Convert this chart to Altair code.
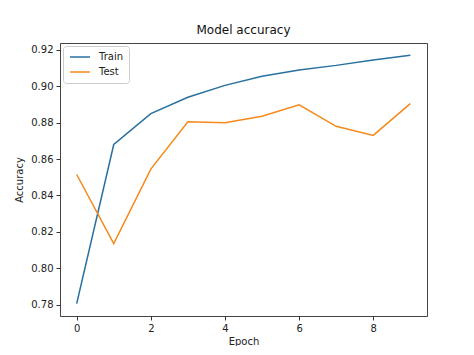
import altair as alt
import pandas as pd

epochs = list(range(10))
train_acc = [0.7805, 0.868, 0.885, 0.894, 0.9005, 0.9055, 0.909, 0.9115, 0.9145, 0.917]
test_acc = [0.8515, 0.8135, 0.8545, 0.8805, 0.880, 0.8835, 0.8898, 0.878, 0.873, 0.8905]
series = ["Train", "Test"]
colors = ["#27709f", "#f5891a"]

rows = []
for e, a in zip(epochs, train_acc):
    rows.append({"Epoch": e, "Accuracy": a, "Series": "Train"})
for e, a in zip(epochs, test_acc):
    rows.append({"Epoch": e, "Accuracy": a, "Series": "Test"})
df = pd.DataFrame(rows)

font = "DejaVu Sans"

chart = alt.Chart(df).mark_line(strokeWidth=1.5).encode(
    x=alt.X("Epoch:Q",
            scale=alt.Scale(domain=[-0.45, 9.45], nice=False, zero=False),
            axis=alt.Axis(values=[0, 2, 4, 6, 8], format="d", grid=False,
                          tickSize=4, labelPadding=3, titlePadding=3,
                          domain=False, tickColor="#333", labelColor="#222",
                          labelFontSize=10, titleFontSize=10, titleFontWeight="normal",
                          titleColor="#222", labelFont=font, titleFont=font)),
    y=alt.Y("Accuracy:Q",
            scale=alt.Scale(domain=[0.7737, 0.9238], nice=False, zero=False),
            axis=alt.Axis(values=[0.78, 0.80, 0.82, 0.84, 0.86, 0.88, 0.90, 0.92],
                          format=".2f", grid=False,
                          tickSize=4, labelPadding=3, titlePadding=6,
                          domain=False, tickColor="#333", labelColor="#222",
                          labelFontSize=10, titleFontSize=10, titleFontWeight="normal",
                          titleColor="#222", labelFont=font, titleFont=font)),
    color=alt.Color("Series:N",
                    scale=alt.Scale(domain=series, range=colors),
                    sort=series,
                    legend=alt.Legend(title=None, orient="top-left", offset=3,
                                      padding=6, strokeColor="#cccccc", fillColor="white",
                                      cornerRadius=3, symbolType="stroke",
                                      symbolSize=400, symbolStrokeWidth=1.5,
                                      clipHeight=10,
                                      labelFontSize=10, labelFont=font, labelColor="#222",
                                      rowPadding=5, labelOffset=8)),
).properties(
    width=367,
    height=273,
    title=alt.Title("Model accuracy", fontSize=12, font=font, fontWeight="normal",
                    color="#111", offset=6),
    autosize=alt.AutoSizeParams(type="none"),
    padding={"left": 52, "top": 35, "right": 20, "bottom": 30},
    background="white",
).configure_view(
    stroke="#444", strokeWidth=1
)

chart.save("out.html", embed_options={"renderer": "svg", "actions": False})
